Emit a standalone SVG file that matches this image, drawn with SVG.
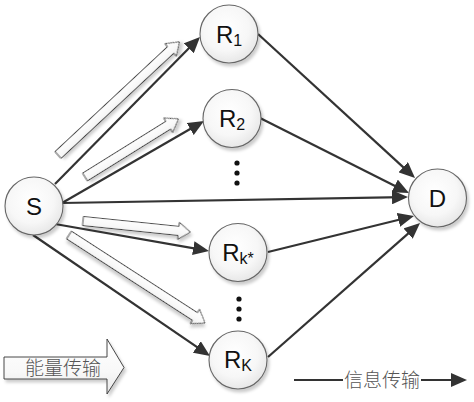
<svg xmlns="http://www.w3.org/2000/svg" width="474" height="402" viewBox="0 0 474 402">
<style>
.node{fill:url(#ng);stroke:#666;stroke-width:1.1;filter:url(#sh)}
.lbl{font-family:"Liberation Sans",Arial,sans-serif;font-size:24px;fill:#111;text-anchor:middle}
.sub{font-size:16px}
.conn line{stroke:#333;stroke-width:2.2;marker-end:url(#ah)}
.ea{fill:url(#eg);stroke:#333;stroke-width:0.9;filter:url(#sh)}
.cjk{font-family:"Noto Sans CJK SC","Noto Sans",sans-serif;font-size:19px;font-weight:300;fill:#555;text-anchor:middle}
.dot{fill:#111}
</style>
<defs>
<radialGradient id="ng" cx="0.45" cy="0.4" r="0.65">
<stop offset="0" stop-color="#ffffff"/>
<stop offset="0.6" stop-color="#f7f7f7"/>
<stop offset="1" stop-color="#e4e4e4"/>
</radialGradient>
<linearGradient id="eg" x1="0" y1="0" x2="0" y2="1">
<stop offset="0" stop-color="#ffffff"/>
<stop offset="0.6" stop-color="#f8f8f8"/>
<stop offset="1" stop-color="#e8e8e8"/>
</linearGradient>
<filter id="sh" x="-20%" y="-20%" width="150%" height="150%">
<feGaussianBlur in="SourceAlpha" stdDeviation="1.6" result="b"/>
<feOffset in="b" dx="2" dy="2.5" result="o"/>
<feFlood flood-color="#000" flood-opacity="0.2"/>
<feComposite in2="o" operator="in" result="s"/>
<feMerge><feMergeNode in="s"/><feMergeNode in="SourceGraphic"/></feMerge>
</filter>
<marker id="ah" markerUnits="userSpaceOnUse" markerWidth="16" markerHeight="14" refX="11" refY="7" orient="auto">
<path d="M0,0 L16,7 L0,14 z" fill="#333"/>
</marker>
</defs>

<g id="energy-arrows">
<polygon class="ea" transform="translate(58,155) rotate(-43)" points="0,-4.5 154,-4.5 154,-8.5 166,0 154,8.5 154,4.5 0,4.5"/>
<polygon class="ea" transform="translate(85,177) rotate(-31.9)" points="0,-4.5 98,-4.5 98,-8.5 110,0 98,8.5 98,4.5 0,4.5"/>
<polygon class="ea" transform="translate(83,221) rotate(5.9)" points="0,-4.5 96,-4.5 96,-8.5 108,0 96,8.5 96,4.5 0,4.5"/>
<polygon class="ea" transform="translate(69,235) rotate(32.9)" points="0,-4.5 150,-4.5 150,-8.5 162,0 150,8.5 150,4.5 0,4.5"/>
</g>

<g class="conn" id="connectors">
<line x1="55" y1="184" x2="196.5" y2="40.5"/>
<line x1="62" y1="203" x2="199.7" y2="123.5"/>
<line x1="62" y1="203" x2="403" y2="197.1"/>
<line x1="55" y1="224" x2="204.1" y2="250.1"/>
<line x1="33" y1="235" x2="205.9" y2="353.2"/>
<line x1="258" y1="34" x2="411.3" y2="174.6"/>
<line x1="260" y1="118" x2="404.5" y2="190.8"/>
<line x1="268" y1="252" x2="409.1" y2="217.2"/>
<line x1="268" y1="357" x2="416.3" y2="226.3"/>
</g>

<g id="S">
<circle class="node" cx="34" cy="206" r="29"/>
<text class="lbl" x="34" y="214.5">S</text>
</g>
<g id="R1">
<circle class="node" cx="229" cy="34" r="29"/>
<text class="lbl" x="229" y="42.5">R<tspan class="sub" dy="3">1</tspan></text>
</g>
<g id="R2">
<circle class="node" cx="232" cy="118.5" r="29"/>
<text class="lbl" x="232" y="127">R<tspan class="sub" dy="3">2</tspan></text>
</g>
<g id="Rkstar">
<circle class="node" cx="238" cy="252.5" r="29"/>
<text class="lbl" x="238" y="261">R<tspan class="sub" dy="3">k*</tspan></text>
</g>
<g id="RK">
<circle class="node" cx="238" cy="360" r="29"/>
<text class="lbl" x="238" y="367.5">R<tspan class="sub" dy="3">K</tspan></text>
</g>
<g id="D">
<circle class="node" cx="437.5" cy="198" r="29"/>
<text class="lbl" x="437.5" y="206.5">D</text>
</g>

<g id="dots">
<circle class="dot" cx="237" cy="163" r="2.6"/>
<circle class="dot" cx="237" cy="173" r="2.6"/>
<circle class="dot" cx="237" cy="183" r="2.6"/>
<circle class="dot" cx="239" cy="299" r="2.6"/>
<circle class="dot" cx="239" cy="309" r="2.6"/>
<circle class="dot" cx="239" cy="319" r="2.6"/>
</g>

<g id="legend-energy">
<polygon class="ea" points="4,357 107,357 107,339 124,367.5 107,394 107,379 4,379"/>
<text class="cjk" x="63" y="375">能量传输</text>
</g>

<g id="legend-info">
<line x1="294" y1="380" x2="343" y2="380" stroke="#333" stroke-width="2"/>
<line x1="421" y1="380" x2="462" y2="380" stroke="#333" stroke-width="2" marker-end="url(#ah)"/>
<text class="cjk" x="382" y="386.5">信息传输</text>
</g>
</svg>
